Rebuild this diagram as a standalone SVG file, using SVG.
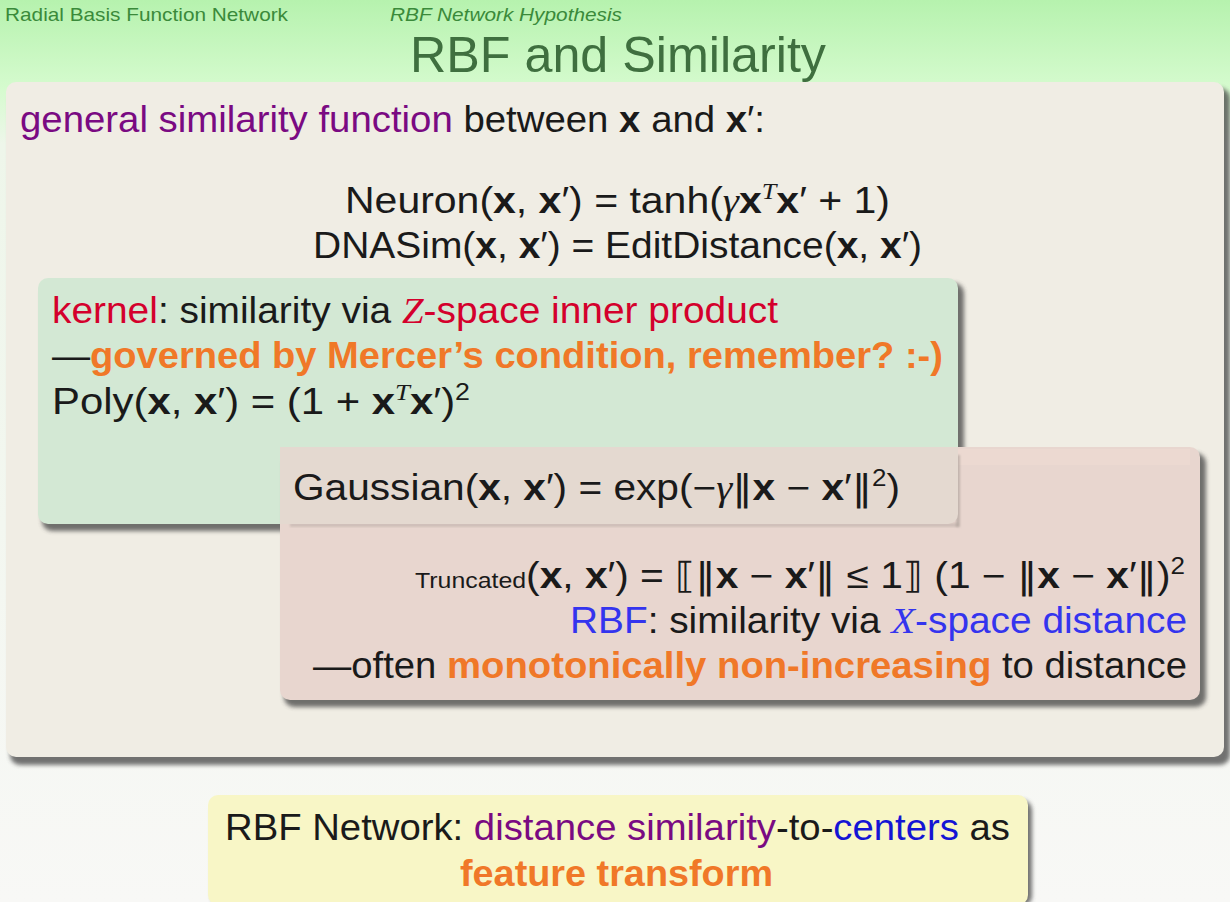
<svg xmlns="http://www.w3.org/2000/svg" width="1230" height="902" viewBox="0 0 1230 902">
<defs>
<linearGradient id="hdr" x1="0" y1="0" x2="0" y2="1">
<stop offset="0" stop-color="#b6f2ae"/>
<stop offset="0.1" stop-color="#d6fbcf"/>
<stop offset="0.16" stop-color="#eef6ea"/>
<stop offset="1" stop-color="#f8f8f6"/>
</linearGradient>
<filter id="sh" x="-5%" y="-5%" width="110%" height="115%">
<feGaussianBlur stdDeviation="2"/>
</filter>
<filter id="sh2" x="-100%" y="-10%" width="300%" height="120%">
<feGaussianBlur stdDeviation="1.2"/>
</filter>
<style>
text{font-family:"Liberation Sans",Arial,sans-serif;fill:#1a1a1a}
.t{font-size:36px}
.b{font-weight:bold}
.g{font-family:"Liberation Serif","DejaVu Serif",serif;font-style:italic}
.m{font-family:"DejaVu Sans","Liberation Sans",sans-serif;font-weight:normal}
.pur{fill:#7a0a82}
.red{fill:#d4002c}
.org{fill:#f07828;font-weight:bold}
.blu{fill:#3434ee}
.blu2{fill:#1414d4}
.shadow{fill:#444;opacity:0.75;filter:url(#sh)}
</style>
</defs>
<rect x="0" y="0" width="1230" height="902" fill="url(#hdr)"/>

<g id="header">
<text x="5" y="21" font-size="19" style="fill:#3a8a3a" textLength="283" lengthAdjust="spacingAndGlyphs">Radial Basis Function Network</text>
<text x="390" y="21" font-size="19" font-style="italic" style="fill:#3a8a3a" textLength="232" lengthAdjust="spacingAndGlyphs">RBF Network Hypothesis</text>
<text x="410" y="72" font-size="50" style="fill:#3f6f3f" textLength="416" lengthAdjust="spacingAndGlyphs">RBF and Similarity</text>
</g>

<g id="main-box">
<rect class="shadow" x="10" y="88" width="1220" height="677" rx="10"/>
<rect x="6" y="82" width="1218" height="675" rx="10" fill="#f0ede4"/>
<text class="t" x="20" y="132" textLength="745" lengthAdjust="spacingAndGlyphs"><tspan class="pur">general similarity function</tspan> between <tspan class="b">x</tspan> and <tspan class="b">x</tspan>′:</text>
<text class="t" x="345" y="213" textLength="545" lengthAdjust="spacingAndGlyphs">Neuron(<tspan class="b">x</tspan>, <tspan class="b">x</tspan>′) = tanh(<tspan class="g">γ</tspan><tspan class="b">x</tspan><tspan class="g" font-size="23" dy="-14">T</tspan><tspan class="b" dy="14">x</tspan>′ + 1)</text>
<text class="t" x="313" y="258" textLength="609" lengthAdjust="spacingAndGlyphs">DNASim(<tspan class="b">x</tspan>, <tspan class="b">x</tspan>′) = EditDistance(<tspan class="b">x</tspan>, <tspan class="b">x</tspan>′)</text>
</g>

<g id="kernel-box">
<rect class="shadow" x="42" y="283" width="922" height="248" rx="10"/>
<rect x="38" y="278" width="920" height="246" rx="10" fill="#d3e8d4"/>
<text class="t" x="52" y="323" textLength="726" lengthAdjust="spacingAndGlyphs"><tspan class="red">kernel</tspan>: similarity via <tspan class="g red">Z</tspan><tspan class="red">-space inner product</tspan></text>
<text class="t" x="52" y="368" textLength="891" lengthAdjust="spacingAndGlyphs">—<tspan class="org">governed by Mercer’s condition, remember? :-)</tspan></text>
<text class="t" x="52" y="414" textLength="418" lengthAdjust="spacingAndGlyphs">Poly(<tspan class="b">x</tspan>, <tspan class="b">x</tspan>′) = (1 + <tspan class="b">x</tspan><tspan class="g" font-size="23" dy="-14">T</tspan><tspan class="b" dy="14">x</tspan>′)<tspan font-size="23" dy="-14">2</tspan></text>
</g>

<g id="rbf-box">
<rect class="shadow" x="284" y="453" width="922" height="254" rx="10"/>
<rect x="280" y="447" width="920" height="253" rx="10" fill="#e8d6cf"/>
<rect x="290" y="449" width="900" height="16" fill="#ecd9d1"/>
<rect x="956" y="455" width="4" height="72" fill="#a89c95" opacity="0.6" filter="url(#sh2)"/>
<rect x="290" y="523" width="668" height="4" fill="#a89c95" opacity="0.4" filter="url(#sh2)"/>
<rect x="280" y="447" width="678" height="77" rx="10" fill="#e4d9d0"/>
<rect x="280" y="447" width="20" height="77" fill="#e4d9d0"/>
<rect x="280" y="447" width="678" height="20" fill="#e4d9d0"/>
<text class="t" x="293" y="500" textLength="607" lengthAdjust="spacingAndGlyphs">Gaussian(<tspan class="b">x</tspan>, <tspan class="b">x</tspan>′) = exp(−<tspan class="g">γ</tspan><tspan class="m">‖</tspan><tspan class="b">x</tspan> − <tspan class="b">x</tspan>′<tspan class="m">‖</tspan><tspan font-size="23" dy="-14">2</tspan><tspan dy="14">)</tspan></text>
<text class="t" x="415" y="588" textLength="770" lengthAdjust="spacingAndGlyphs"><tspan font-size="22">Truncated</tspan>(<tspan class="b">x</tspan>, <tspan class="b">x</tspan>′) = <tspan class="m">⟦‖</tspan><tspan class="b">x</tspan> − <tspan class="b">x</tspan>′<tspan class="m">‖</tspan> ≤ 1<tspan class="m">⟧</tspan> (1 − <tspan class="m">‖</tspan><tspan class="b">x</tspan> − <tspan class="b">x</tspan>′<tspan class="m">‖</tspan>)<tspan font-size="23" dy="-14">2</tspan></text>
<text class="t" x="570" y="633" textLength="617" lengthAdjust="spacingAndGlyphs"><tspan class="blu">RBF</tspan>: similarity via <tspan class="g blu">X</tspan><tspan class="blu">-space distance</tspan></text>
<text class="t" x="313" y="678" textLength="874" lengthAdjust="spacingAndGlyphs">—often <tspan class="org">monotonically non-increasing</tspan> to distance</text>
</g>

<g id="summary-box">
<rect class="shadow" x="212" y="800" width="820" height="106" rx="10"/>
<rect x="208" y="795" width="820" height="110" rx="10" fill="#f8f6c6"/>
<text class="t" x="225" y="840" textLength="785" lengthAdjust="spacingAndGlyphs">RBF Network: <tspan class="pur">distance similarity</tspan>-to-<tspan class="blu2">centers</tspan> as</text>
<text class="t org" x="460" y="886" textLength="313" lengthAdjust="spacingAndGlyphs">feature transform</text>
</g>

<g id="connectors"/>
</svg>
